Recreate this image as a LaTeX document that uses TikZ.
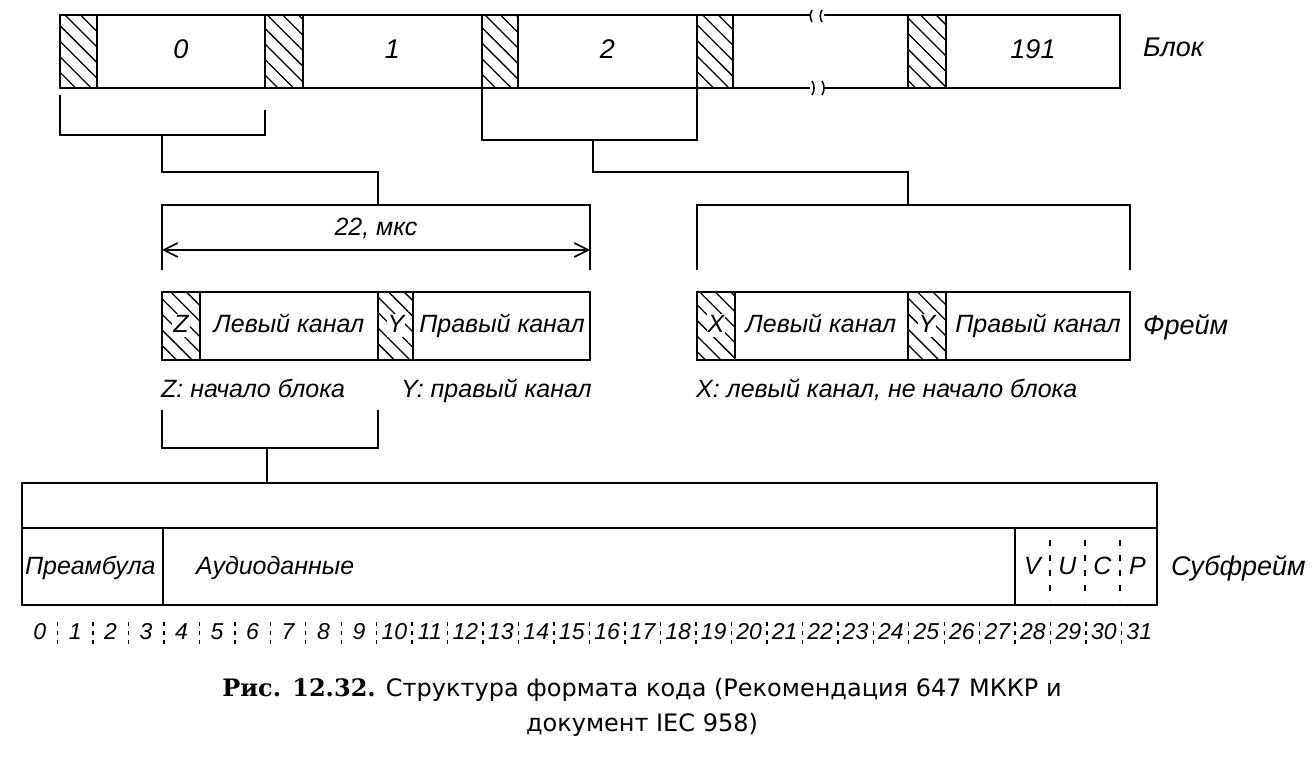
\documentclass[tikz,border=0pt]{standalone}
\usepackage{fontspec}
\setmainfont{Liberation Sans}
\newfontfamily\capfont{DejaVu Sans}
\newfontfamily\capbold{DejaVu Serif}
\usetikzlibrary{patterns.meta, arrows.meta}

\begin{document}
\begin{tikzpicture}[x=1pt, y=-1pt, line width=2.2pt,
    hatch/.style={draw, pattern={Lines[angle=-45, distance=11pt, line width=1.3pt]}},
    lbl/.style={font=\fontsize{25}{27}\selectfont\itshape, inner sep=0pt, text height=18pt, text depth=5pt},
    big/.style={font=\fontsize{27}{29}\selectfont\itshape, inner sep=0pt, text height=19pt, text depth=5pt}]
    \useasboundingbox (0,0) rectangle (1315,759);

    % Block row
    \foreach \a/\b in {60/97, 265/303, 482/518, 697/733, 908/946}
        \fill[hatch] (\a,15) rectangle (\b,88);
    \draw (60,15) rectangle (1120,88);
    \foreach \a/\b/\t in {97/265/0, 303/482/1, 518/697/2, 946/1120/191}
        \node[big] (blk\t) at ({(\a+\b)/2},52) {\t};
    \fill[white] (810,10) rectangle (824,20) (810,83) rectangle (824,93);
    \draw[line width=1.6pt] (812,10) to[bend right=30] (812,22) (822,10) to[bend right=30] (822,22);
    \draw[line width=1.6pt] (812,81) to[bend left=30] (812,95) (822,81) to[bend left=30] (822,95);
    \node[big, anchor=west] (blklbl) at (1142,50) {Блок};

    % Brackets to frames
    \draw (60,95) |- (265,135) -- (265,110);
    \draw (162,135) |- (378,172) -- (378,205);
    \draw (482,88) |- (697,140) -- (697,88);
    \draw (593,140) |- (908,172) -- (908,205);
    \draw (162,270) |- (590,205) -- (590,270);
    \draw (697,270) |- (1130,205) -- (1130,270);
    \coordinate (tl) at (162,250);
    \coordinate (tr) at (590,250);
    \draw[{Straight Barb[length=14pt,width=14pt]}-{Straight Barb[length=14pt,width=14pt]}, line width=1.6pt] (tl) -- (tr);
    \node[lbl] (dur) at (376,229) {22, мкс};

    % Frames
    \foreach \a/\b in {162/200, 378/413, 697/735, 908/946}
        \fill[hatch] (\a,292) rectangle (\b,360);
    \draw (162,292) rectangle (590,360) (697,292) rectangle (1130,360);
    \foreach \x in {200,378,413,735,908,946} \draw (\x,292) -- (\x,360);
    \node[lbl, fill=white, inner xsep=1pt] (fz) at (181,326) {Z};
    \node[lbl] (fl1) at (289,326) {Левый канал};
    \node[lbl, fill=white, inner xsep=1pt] (fy1) at (396,326) {Y};
    \node[lbl] (fr1) at (502,326) {Правый канал};
    \node[lbl, fill=white, inner xsep=1pt] (fx) at (716,326) {X};
    \node[lbl] (fl2) at (821,326) {Левый канал};
    \node[lbl, fill=white, inner xsep=1pt] (fy2) at (927,326) {Y};
    \node[lbl] (fr2) at (1038,326) {Правый канал};
    \node[big, anchor=west] (frlbl) at (1142,328) {Фрейм};
    \node[lbl, anchor=west] (capz) at (160,391) {Z: начало блока};
    \node[lbl, anchor=west] (capy) at (400,391) {Y: правый канал};
    \node[lbl, anchor=west] (capx) at (695,391) {X: левый канал, не начало блока};

    % Bracket to subframe
    \draw (162,410) |- (378,448) -- (378,410);
    \draw (267,448) -- (267,483);
    \draw (22,528) |- (1157,483) -- (1157,528);

    % Subframe
    \draw (22,528) rectangle (1157,605);
    \draw (163,528) -- (163,605) (1015,528) -- (1015,605);
    \foreach \x in {1050,1085,1120} \draw[line width=1.4pt, dash pattern=on 6pt off 9pt] (\x,540) -- (\x,600);
    \node[lbl, anchor=west] (pre) at (24,568) {Преамбула};
    \node[lbl, anchor=west] (aud) at (195,568) {Аудиоданные};
    \foreach \t [count=\i] in {V,U,C,P} \node[lbl] (f\t) at ({997.5+35*\i},568) {\t};
    \node[big, anchor=west] (sflbl) at (1170,568) {Субфрейм};

    % Bit numbers
    \foreach \i in {0,...,31} {
        \node[lbl, font=\fontsize{23}{25}\selectfont\itshape] (bit\i) at ({22+35.47*\i+17.7},633) {\i};
        \ifnum\i>0 \draw[line width=1.4pt, dash pattern=on 4pt off 5pt] ({22+35.47*\i},622) -- ({22+35.47*\i},645); \fi
    }

    % Caption
    \node[font=\fontsize{24}{26}\selectfont\capfont] (cap1) at (642,690) {{\capbold\bfseries Рис. 12.32.} Структура формата кода (Рекомендация 647 МККР и};
    \node[font=\fontsize{24}{26}\selectfont\capfont] (cap2) at (642,725) {документ IEC 958)};
\end{tikzpicture}
\end{document}
